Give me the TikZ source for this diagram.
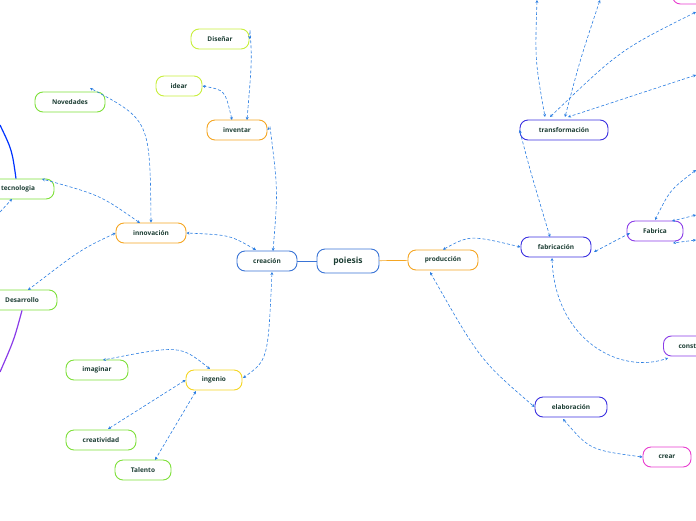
\documentclass[tikz,border=0pt]{standalone}
\usepackage{fontspec}
\setmainfont{Open Sans}
\usetikzlibrary{arrows.meta}
\definecolor{txt}{HTML}{1E3F35}
\definecolor{lk}{HTML}{2A7DE1}
\definecolor{bl}{HTML}{3A74D6}
\definecolor{og}{HTML}{F5A623}
\definecolor{gr}{HTML}{7EE03A}
\definecolor{yl}{HTML}{C8EE3C}
\definecolor{ye}{HTML}{F5D623}
\definecolor{ind}{HTML}{3B30E0}
\definecolor{pu}{HTML}{8A3BE8}
\definecolor{mg}{HTML}{E83CCF}
\tikzset{
 box/.style={draw=#1,line width=0.9pt,rounded corners=8pt,minimum height=20pt,font=\bfseries\fontsize{6.5}{7}\selectfont,text=txt,fill=white,inner sep=2pt},
 lnk/.style={lk,densely dashed,line width=0.6pt,{Stealth[length=3pt,width=3pt]}-{Stealth[length=3pt,width=3pt]}},
 lnk1/.style={lk,densely dashed,line width=0.6pt,-{Stealth[length=3pt,width=3pt]}},
}
\begin{document}
\begin{tikzpicture}[x=1pt,y=-1pt]
\useasboundingbox (0,0) rectangle (696,520);
\coordinate (t1) at (537,0);\coordinate (t2) at (600,0);\coordinate (t3) at (696,12);\coordinate (t4) at (696,75);
\coordinate (f1) at (696,170);\coordinate (f2) at (696,215);\coordinate (f3) at (696,240);
\coordinate (k1) at (0,212);
\node[box=bl,minimum width=62pt,minimum height=24pt,font=\bfseries\fontsize{8.5}{9}\selectfont] (poi) at (348,261) {poiesis};
\node[box=bl,minimum width=60pt] (cre) at (267,261) {creación};
\node[box=og,minimum width=70pt] (pro) at (443,260) {producción};
\node[box=og,minimum width=60pt] (inv) at (237,130) {inventar};
\node[box=yl,minimum width=58pt] (dis) at (220,39) {Diseñar};
\node[box=yl,minimum width=46pt] (ide) at (179,86) {idear};
\node[box=og,minimum width=70pt] (inn) at (151,233) {innovación};
\node[box=gr,minimum width=70pt] (nov) at (70,102) {Novedades};
\node[box=gr,minimum width=72pt] (tec) at (18,189) {tecnologia};
\node[box=gr,minimum width=70pt] (des) at (22,300) {Desarrollo};
\node[box=ye,minimum width=56pt] (ing) at (214,380) {ingenio};
\node[box=gr,minimum width=62pt] (ima) at (97,370) {imaginar};
\node[box=gr,minimum width=70pt] (crv) at (101,440) {creatividad};
\node[box=gr,minimum width=56pt] (tal) at (143,470) {Talento};
\node[box=ind,minimum width=88pt] (tra) at (564,130) {transformación};
\node[box=ind,minimum width=70pt] (fab) at (556,247) {fabricación};
\node[box=pu,minimum width=56pt] (fbr) at (655,231) {Fabrica};
\node[box=pu,minimum width=72pt,anchor=west] (con) at (663,346) {construcción};
\node[box=ind,minimum width=72pt] (ela) at (571,407) {elaboración};
\node[box=mg,minimum width=48pt] (cr) at (667,457) {crear};
\node[box=mg,minimum width=40pt,anchor=west] (pk) at (672,-6) {};
\draw[bl,line width=0.7pt] (poi) -- (cre);
\draw[og,line width=0.7pt] (poi) -- (pro);
\draw[blue!80!cyan,line width=1.2pt] (tec.north) ++(-2,0) .. controls (12,150) .. (0,125);
\draw[pu,line width=1.2pt] (des.south) .. controls (14,340) .. (0,372);
\draw[lnk] (273,251) .. controls (278,190) .. (270,127) -- (inv.east);
\draw[lnk] (247,120) .. controls (252,60) .. (250,30) -- (dis.east);
\draw[lnk] (232,120) .. controls (225,90) .. (ide.east);
\draw[lnk] (256,250) .. controls (230,235) .. (inn.east);
\draw[lnk] (inn.north) .. controls (150,120) .. (90,88);
\draw[lnk] (140,223) .. controls (100,195) .. (42,179);
\draw[lnk] (inn.west) .. controls (80,250) .. (28,290);
\draw[lnk1] (k1) -- (12,199);
\draw[lnk] (272,272) .. controls (268,360) .. (243,378);
\draw[lnk] (210,369) .. controls (180,345) .. (103,360);
\draw[lnk] (ing.west) -- (108,429);
\draw[lnk] (196,391) -- (155,460);
\draw[lnk] (pro.north) .. controls (470,235) .. (fab.west);
\draw[lnk] (430,272) .. controls (480,360) .. (ela.west);
\draw[lnk] (tra.west) .. controls (530,170) .. (550,237);
\draw[lnk] (594,252) -- (630,233);
\draw[lnk] (552,258) .. controls (555,340) and (620,375) .. (668,358);
\draw[lnk] (563,419) .. controls (590,450) .. (cr.west);
\draw[lnk] (t1) .. controls (535,60) .. (545,117);
\draw[lnk] (t2) .. controls (580,60) .. (565,117);
\draw[lnk] (t3) .. controls (620,50) .. (550,117);
\draw[lnk] (t4) .. controls (620,100) .. (568,117);
\draw[lnk] (f1) .. controls (670,190) .. (655,220);
\draw[lnk] (f2) -- (672,221);
\draw[lnk] (f3) -- (673,243);
\end{tikzpicture}
\end{document}
